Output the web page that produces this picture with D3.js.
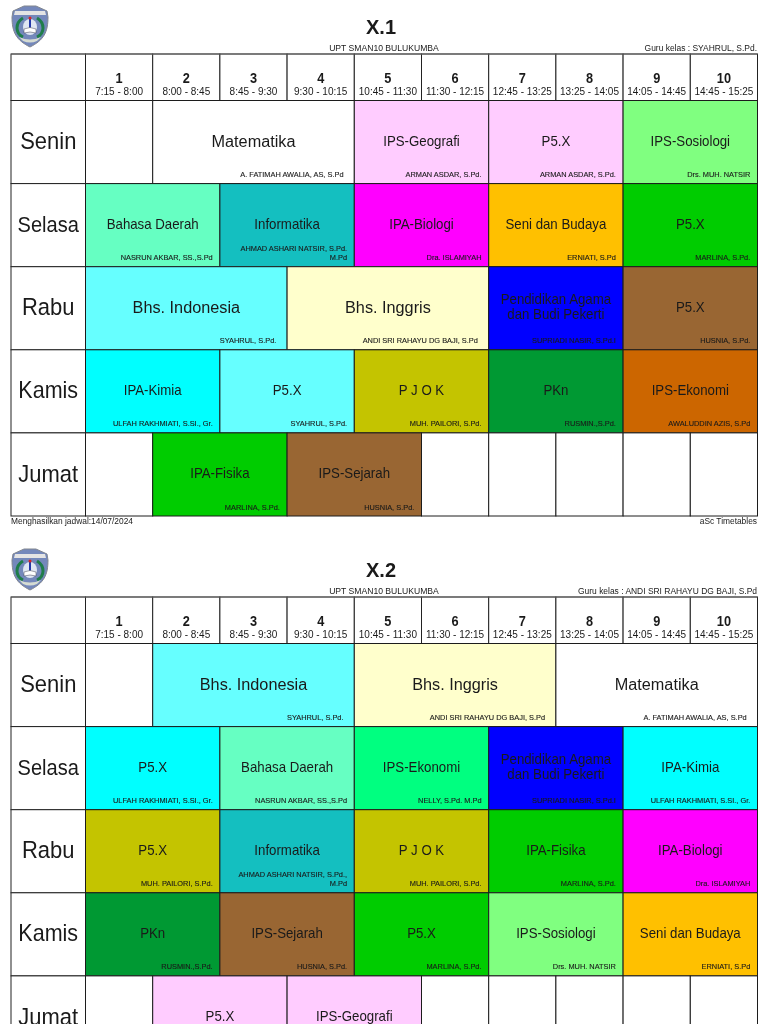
<!DOCTYPE html>
<html><head><meta charset="utf-8">
<script src="https://cdn.jsdelivr.net/npm/d3@7"></script>
<style>html,body{margin:0;padding:0;background:#fff;overflow:hidden}svg{display:block;filter:blur(0.3px)}text{font-family:"Liberation Sans",Arial,sans-serif;fill:#1a1a1a}</style>
</head><body><div id="c"></div>
<script>
const days = ["Senin","Selasa","Rabu","Kamis","Jumat"];
const periods = ["1","2","3","4","5","6","7","8","9","10"];
const times = ["7:15 - 8:00","8:00 - 8:45","8:45 - 9:30","9:30 - 10:15","10:45 - 11:30","11:30 - 12:15","12:45 - 13:25","13:25 - 14:05","14:05 - 14:45","14:45 - 15:25"];
const school = "UPT SMAN10 BULUKUMBA";
const generated = "Menghasilkan jadwal:14/07/2024";
const credit = "aSc Timetables";

const FATIMAH="A. FATIMAH AWALIA, AS, S.Pd", ARMAN="ARMAN ASDAR, S.Pd.", NATSIR="Drs. MUH. NATSIR", NASRUN="NASRUN AKBAR, SS.,S.Pd",
 ISLAMIYAH="Dra. ISLAMIYAH", ERNIATI="ERNIATI, S.Pd", MARLINA="MARLINA, S.Pd.", SYAHRUL="SYAHRUL, S.Pd.", ANDI="ANDI SRI RAHAYU DG BAJI, S.Pd",
 SUPRIADI="SUPRIADI NASIR, S.Pd.I", HUSNIA="HUSNIA, S.Pd.", ULFAH="ULFAH RAKHMIATI, S.SI., Gr.", PAILORI="MUH. PAILORI, S.Pd.", RUSMIN="RUSMIN.,S.Pd.",
 AWAL="AWALUDDIN AZIS, S.Pd", NELLY="NELLY, S.Pd. M.Pd";
const PAI="Pendidikan Agama\ndan Budi Pekerti";

// [day index, first period index, number of periods, subject, teacher]
const lessonsX1 = [
 [0,0,1,"",""],[0,1,3,"Matematika",FATIMAH],[0,4,2,"IPS-Geografi",ARMAN],[0,6,2,"P5.X",ARMAN],[0,8,2,"IPS-Sosiologi",NATSIR],
 [1,0,2,"Bahasa Daerah",NASRUN],[1,2,2,"Informatika","AHMAD ASHARI NATSIR, S.Pd.\nM.Pd"],[1,4,2,"IPA-Biologi",ISLAMIYAH],[1,6,2,"Seni dan Budaya",ERNIATI],[1,8,2,"P5.X",MARLINA],
 [2,0,3,"Bhs. Indonesia",SYAHRUL],[2,3,3,"Bhs. Inggris",ANDI],[2,6,2,PAI,SUPRIADI],[2,8,2,"P5.X",HUSNIA],
 [3,0,2,"IPA-Kimia",ULFAH],[3,2,2,"P5.X",SYAHRUL],[3,4,2,"P J O K",PAILORI],[3,6,2,"PKn",RUSMIN],[3,8,2,"IPS-Ekonomi",AWAL],
 [4,0,1,"",""],[4,1,2,"IPA-Fisika",MARLINA],[4,3,2,"IPS-Sejarah",HUSNIA],[4,5,1,"",""],[4,6,1,"",""],[4,7,1,"",""],[4,8,1,"",""],[4,9,1,"",""]
];
const lessonsX2 = [
 [0,0,1,"",""],[0,1,3,"Bhs. Indonesia",SYAHRUL],[0,4,3,"Bhs. Inggris",ANDI],[0,7,3,"Matematika",FATIMAH],
 [1,0,2,"P5.X",ULFAH],[1,2,2,"Bahasa Daerah",NASRUN],[1,4,2,"IPS-Ekonomi",NELLY],[1,6,2,PAI,SUPRIADI],[1,8,2,"IPA-Kimia",ULFAH],
 [2,0,2,"P5.X",PAILORI],[2,2,2,"Informatika","AHMAD ASHARI NATSIR, S.Pd.,\nM.Pd"],[2,4,2,"P J O K",PAILORI],[2,6,2,"IPA-Fisika",MARLINA],[2,8,2,"IPA-Biologi",ISLAMIYAH],
 [3,0,2,"PKn",RUSMIN],[3,2,2,"IPS-Sejarah",HUSNIA],[3,4,2,"P5.X",MARLINA],[3,6,2,"IPS-Sosiologi",NATSIR],[3,8,2,"Seni dan Budaya",ERNIATI],
 [4,0,1,"",""],[4,1,2,"P5.X",ARMAN],[4,3,2,"IPS-Geografi",ARMAN],[4,5,1,"",""],[4,6,1,"",""],[4,7,1,"",""],[4,8,1,"",""],[4,9,1,"",""]
];
const subjectColors = {"Matematika":"#ffffff","IPS-Geografi":"#ffccff","IPS-Sosiologi":"#80ff80","Bahasa Daerah":"#66ffc2","Informatika":"#14bfc0","IPA-Biologi":"#ff00ff","Seni dan Budaya":"#ffc000","Bhs. Indonesia":"#66ffff","Bhs. Inggris":"#ffffcc","IPA-Kimia":"#00ffff","P J O K":"#c4c400","PKn":"#009933","IPS-Ekonomi":"#cc6600","IPA-Fisika":"#00cc00","IPS-Sejarah":"#996633","":"#ffffff"};
subjectColors[PAI]="#0000ff";
const p5Colors = {};
p5Colors[ARMAN]="#ffccff";p5Colors[MARLINA]="#00cc00";p5Colors[HUSNIA]="#996633";p5Colors[SYAHRUL]="#66ffff";p5Colors[ULFAH]="#00ffff";p5Colors[PAILORI]="#c4c400";
const colorOf = d => d[3]==="P5.X" ? p5Colors[d[4]] : (d[4]===NELLY ? "#00ff80" : subjectColors[d[3]]);

const classes = [
 {name:"X.1", top:0, homeroom:"Guru kelas : SYAHRUL, S.Pd.", lessons:lessonsX1},
 {name:"X.2", top:543, homeroom:"Guru kelas : ANDI SRI RAHAYU DG BAJI, S.Pd", lessons:lessonsX2}
];

const L=11, C0=85.5, R=757.5, T=54, H=100.5, B=516;
const x = d3.scaleBand().domain(periods).range([C0,R]);
const y = d3.scaleBand().domain(days).range([H,B]);
const dayFont = d => d==="Selasa" ? 21.8 : d==="Kamis" ? 23.4 : 23.9;
const svg = d3.select("#c").append("svg").attr("width",768).attr("height",1024).attr("viewBox","0 0 768 1024");

function logo(g){
  const s=g.append("g").attr("transform","translate(30,26)");
  s.append("path").attr("d","M-6,-20 L6,-20 L17,-15 L18,-9 C18,6 14,14 0,21 C-14,14 -18,6 -18,-9 L-17,-15 Z").attr("fill","#7488bb").attr("stroke","#81868f").attr("stroke-width",1);
  s.append("path").attr("d","M-15,-15 L15,-15 L16,-11 L-16,-11 Z").attr("fill","#e4e4e4");
  s.append("ellipse").attr("cx",0).attr("cy",1).attr("rx",7).attr("ry",8).attr("fill","#dfe6f2");
  s.append("path").attr("d","M-7,-8 C-15,-3 -15,7 -7,11").attr("fill","none").attr("stroke","#1f7d4a").attr("stroke-width",3);
  s.append("path").attr("d","M7,-8 C15,-3 15,7 7,11").attr("fill","none").attr("stroke","#1f7d4a").attr("stroke-width",3);
  s.append("rect").attr("x",-1).attr("y",-7).attr("width",2).attr("height",10).attr("fill","#2438a8");
  s.append("circle").attr("cx",0).attr("cy",-8).attr("r",1.5).attr("fill","#d22");
  s.append("path").attr("d","M-6,3 Q0,0 6,3 L6,7 Q0,5 -6,7 Z").attr("fill","#fff").attr("stroke","#445").attr("stroke-width",.5);
  s.append("path").attr("d","M-11,11 Q0,16 11,11 L7,15 Q0,18 -7,15 Z").attr("fill","#d6dcd2");
}

classes.forEach(cl=>{
  const g = svg.append("g").attr("transform",`translate(0,${cl.top})`);
  logo(g);
  g.append("text").attr("x",381).attr("y",34).attr("text-anchor","middle").attr("font-size",20).attr("font-weight","bold").text(cl.name);
  g.append("text").attr("x",384).attr("y",51).attr("text-anchor","middle").attr("font-size",8.6).text(school);
  g.append("text").attr("x",757).attr("y",51).attr("text-anchor","end").attr("font-size",8.45).text(cl.homeroom);

  // header
  g.append("rect").attr("x",L).attr("y",T).attr("width",C0-L).attr("height",H-T).attr("fill","#fff").attr("stroke","#222");
  const hd = g.selectAll(".h").data(periods).join("g");
  hd.append("rect").attr("x",d=>x(d)).attr("y",T).attr("width",x.bandwidth()).attr("height",H-T).attr("fill","#fff").attr("stroke","#222");
  hd.append("text").attr("transform",d=>`translate(${x(d)+x.bandwidth()/2},82.5) scale(.85,1)`).attr("text-anchor","middle").attr("font-size",15).attr("font-weight","bold").text(d=>d);
  hd.append("text").attr("x",d=>x(d)+x.bandwidth()/2).attr("y",95).attr("text-anchor","middle").attr("font-size",10).data(times).text(d=>d);
  g.append("line").attr("x1",L).attr("x2",R).attr("y1",T).attr("y2",T).attr("stroke","#666").attr("stroke-width",1.2);

  // day labels
  const dg = g.selectAll(".d").data(days).join("g");
  dg.append("rect").attr("x",L).attr("y",d=>y(d)).attr("width",C0-L).attr("height",y.bandwidth()).attr("fill","#fff").attr("stroke","#222");
  dg.append("text").attr("transform",d=>`translate(${(L+C0)/2},${y(d)+y.bandwidth()/2-1.2}) scale(.92,1)`).attr("dy","0.35em").attr("text-anchor","middle").attr("font-size",dayFont).text(d=>d);

  // lessons
  const cell = g.selectAll(".l").data(cl.lessons).join("g");
  const px = d=>C0+(R-C0)*d[1]/periods.length, pw=d=>(R-C0)*d[2]/periods.length;
  cell.append("rect").attr("x",px).attr("y",d=>y(days[d[0]])).attr("width",pw).attr("height",y.bandwidth()).attr("fill",colorOf).attr("stroke","#1c1c1c");
  cell.each(function(d){
    const c=d3.select(this), cx=px(d)+pw(d)/2, top=y(days[d[0]]), mid=top+y.bandwidth()/2-1.2, bot=top+y.bandwidth();
    const sl=d[3].split("\n");
    sl.forEach((t,i)=>c.append("text").attr("transform",`translate(${cx},${mid+(i-(sl.length-1)/2)*15}) scale(.94,1)`).attr("dy","0.35em").attr("text-anchor","middle").attr("font-size",d[2]>=3?17.3:14.1).text(t));
    const tl=d[4].split("\n"), rx=px(d)+pw(d)-d[2]*3.6;
    tl.forEach((t,i)=>c.append("text").attr("x",rx).attr("y",bot-6.5-(tl.length-1-i)*9).attr("text-anchor","end").attr("font-size",7.4).attr("stroke","#1a1a1a").attr("stroke-width",.12).text(t));
  });
  g.append("text").attr("x",11).attr("y",523.5).attr("font-size",8.4).text(generated);
  g.append("text").attr("x",757).attr("y",523.5).attr("text-anchor","end").attr("font-size",8.4).text(credit);
});
</script></body></html>
